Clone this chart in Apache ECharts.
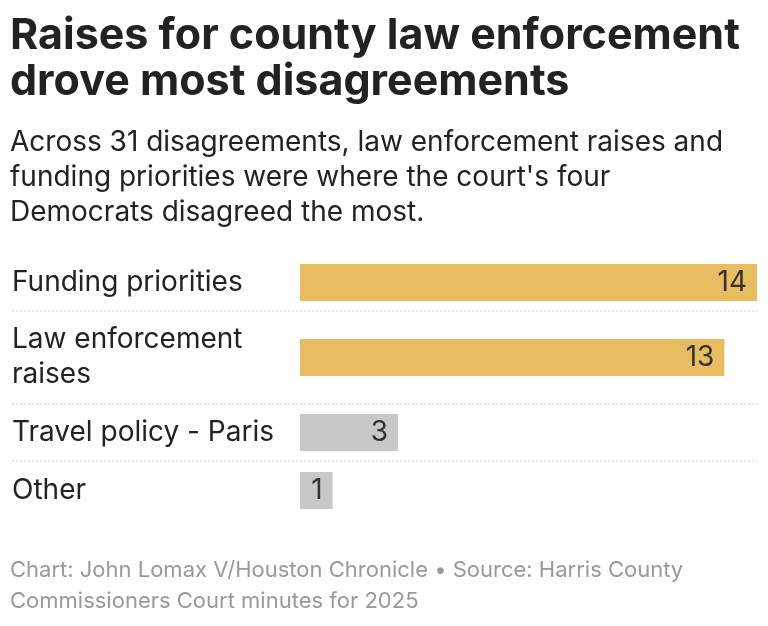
<!DOCTYPE html>
<html>
<head>
<meta charset="utf-8">
<script src="https://cdn.jsdelivr.net/npm/echarts@6/dist/echarts.min.js"></script>
<style>
    html, body {margin:0;padding:0;background:#ffffff;}
    #chart {width:768px;height:626px;}
</style>
</head>
<body>
<div id="chart"></div>
<script>
    // data
    var categories = ['Funding priorities', 'Law enforcement\nraises', 'Travel policy - Paris', 'Other'];
    var values = [14, 13, 3, 1];
    var barColors = ['#e8bd61', '#e8bd61', '#c8c8c8', '#c8c8c8'];
    var xMax = 14;

    var fontFam = 'Inter, "Noto Sans", sans-serif';
    var chart = echarts.init(document.getElementById('chart'));

    // rows have different heights (two-line label), so one grid per row
    var barTops = [264, 339, 414, 472];
    var barH = 37;
    var grids = [], xAxes = [], yAxes = [], series = [];
    for (var i = 0; i < categories.length; i++) {
        grids.push({left: 300, right: 11, top: barTops[i], height: barH});
        xAxes.push({
            type: 'value', gridIndex: i, min: 0, max: xMax,
            show: false
        });
        yAxes.push({
            type: 'category', gridIndex: i, data: [categories[i]],
            axisLine: {show: false}, axisTick: {show: false},
            axisLabel: {
                margin: 288, align: 'left', fontSize: 28, lineHeight: 35,
                color: '#222222', fontFamily: fontFam
            }
        });
        series.push({
            type: 'bar', xAxisIndex: i, yAxisIndex: i,
            data: [values[i]], barWidth: '100%', silent: true,
            itemStyle: {color: barColors[i]},
            label: {
                show: true, position: 'insideRight', offset: [-5, 0],
                fontSize: 28, color: '#333333', fontFamily: fontFam
            }
        });
    }

    // dotted separators between rows
    var sepY = [311, 404, 461];
    var graphics = sepY.map(function (y) {
        return {
            type: 'line', shape: {x1: 12, y1: y, x2: 757, y2: y},
            style: {stroke: '#cccccc', lineWidth: 1, lineDash: [2, 2]}
        };
    });

    var option = {
        backgroundColor: '#ffffff',
        title: [
            {
                text: 'Raises for county law enforcement\ndrove most disagreements',
                left: 10, top: 13, padding: 0,
                textStyle: {fontSize: 43, fontWeight: 'bold', lineHeight: 46, color: '#222222', fontFamily: fontFam}
            },
            {
                text: 'Across 31 disagreements, law enforcement raises and\nfunding priorities were where the court\'s four\nDemocrats disagreed the most.',
                left: 10, top: 125, padding: 0,
                textStyle: {fontSize: 28, fontWeight: 'normal', lineHeight: 35, color: '#222222', fontFamily: fontFam}
            },
            {
                text: 'Chart: John Lomax V/Houston Chronicle \u2022 Source: Harris County\nCommissioners Court minutes for 2025',
                left: 10, top: 555, padding: 0,
                textStyle: {fontSize: 22, fontWeight: 'normal', lineHeight: 31, color: '#999999', fontFamily: fontFam}
            }
        ],
        grid: grids,
        xAxis: xAxes,
        yAxis: yAxes,
        series: series,
        graphic: graphics
    };

    chart.setOption(option);
    window.onresize = function () { chart.resize(); };
</script>
</body>
</html>
